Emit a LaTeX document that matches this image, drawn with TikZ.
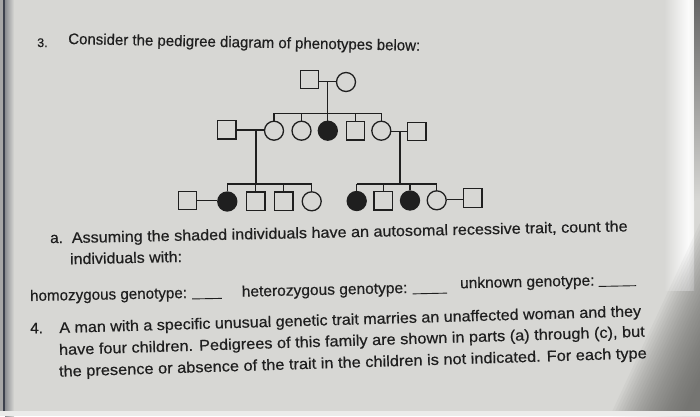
\documentclass[tikz,border=0pt]{standalone}
\usepackage{fontspec}
\setmainfont[FakeBold=0.5]{Liberation Sans}
\usepackage{graphicx}
\definecolor{paper}{HTML}{D7D7D4}
\definecolor{ink}{HTML}{1F1F1F}
\definecolor{edge}{HTML}{3C414C}
\definecolor{shadowc}{HTML}{5E5E5C}
\tikzset{
  txt/.style={font=\fontsize{15.3}{18}\selectfont, text=ink, inner sep=0pt, anchor=base west},
  male/.style={draw=ink, line width=1.3pt, rectangle, minimum size=18.5pt, inner sep=0pt},
  female/.style={draw=ink, line width=1.3pt, circle, minimum size=19pt, inner sep=0pt},
  aff/.style={fill=ink},
  link/.style={draw=ink, line width=1.3pt}
}
\begin{document}
\begin{tikzpicture}[x=1pt,y=-1pt]
\useasboundingbox (0,0) rectangle (700,416);
% photographed page background
\fill[paper] (0,0) rectangle (700,416);
\fill[gray!70] (0,0) rectangle (3,416);
\fill[edge] (3,0) rectangle (5,416);
\shade[left color=edge!50!paper, right color=paper] (5,0) rectangle (14,416);
\shade[left color=paper, right color=white!90!paper] (664,0) rectangle (688,290);
\shade[left color=white!90!paper, right color=white!70!paper] (688,0) rectangle (694,290);
\shade[top color=gray!80!black, bottom color=paper] (694,0) rectangle (700,200);
\foreach \i in {0,...,24}
  \fill[shadowc, opacity=0.055] (610+3*\i,416) -- (700,223+6.43*\i) -- (700,416) -- cycle;
\fill[white!50!paper] (0,411) rectangle (700,416);

% question 3
\node[txt, font=\fontsize{12.5}{15}\selectfont] (n3) at (37,47) {3.};
\node[txt, rotate=-1.1] (q3) at (68,44) {\resizebox{352pt}{\height}{Consider the pedigree diagram of phenotypes below:}};

% generation I
\node[male] (g1m) at (309.5,79.5) {};
\node[female] (g1f) at (346,82) {};
\coordinate (g1mid) at (327.5,81.5);
\coordinate (s2) at (327.5,113.3);
\draw[link] (g1m.east |- g1mid) -- (g1f.west |- g1mid);
\draw[link] (g1mid) -- (s2);

% generation II
\node[male] (g2h1) at (226.7,129.7) {};
\node[female] (g2a) at (274,130.7) {};
\node[female] (g2b) at (301.5,130.7) {};
\node[female, aff] (g2c) at (327.8,130.7) {};
\node[male] (g2d) at (355.5,130.7) {};
\node[female] (g2e) at (381.3,130.7) {};
\node[male] (g2h2) at (416.7,131.5) {};
\coordinate (s2l) at (274,113.3);
\coordinate (s2r) at (381.3,113.3);
\draw[link] (s2l) -- (s2r);
\foreach \c in {g2a,g2b,g2c,g2d,g2e}
  \draw[link] (\c.north) -- (\c.north |- s2l);
\coordinate (m1) at (256,130);
\coordinate (m2) at (400,131.5);
\draw[link] (g2h1.east |- m1) -- (g2a.west |- m1);
\draw[link] (g2e.east |- m2) -- (g2h2.west |- m2);
\coordinate (s3a) at (256,184);
\coordinate (s3b) at (400,184);
\draw[link] (m1) -- (s3a);
\draw[link] (m2) -- (s3b);

% generation III, left family
\node[male] (g3h1) at (187.5,200.5) {};
\node[female, aff] (g3a) at (227.3,201.5) {};
\node[male] (g3b) at (255.8,201.3) {};
\node[male] (g3c) at (283.7,201.3) {};
\node[female] (g3d) at (311.7,201.3) {};
\coordinate (s3al) at (227.3,184);
\coordinate (s3ar) at (311.7,184);
\draw[link] (s3al) -- (s3ar);
\foreach \c in {g3a,g3b,g3c,g3d}
  \draw[link] (\c.north) -- (\c.north |- s3al);
\coordinate (m3) at (207,200.3);
\draw[link] (g3h1.east |- m3) -- (g3a.west |- m3);

% generation III, right family
\node[female, aff] (g3e) at (356.7,201) {};
\node[male] (g3f) at (383.3,200.8) {};
\node[female, aff] (g3g) at (410,200.5) {};
\node[female] (g3h) at (436.7,200.3) {};
\node[male] (g3h2) at (472.7,198) {};
\coordinate (s3bl) at (356.7,184);
\coordinate (s3br) at (436.7,184);
\draw[link] (s3bl) -- (s3br);
\foreach \c in {g3e,g3f,g3g,g3h}
  \draw[link] (\c.north) -- (\c.north |- s3bl);
\coordinate (m4) at (455,199.3);
\draw[link] (g3h.east |- m4) -- (g3h2.west |- m4);

% part a
\node[txt] (pa) at (50,243) {a.};
\node[txt, rotate=1.2] (pa1) at (71.7,243) {\resizebox{556pt}{\height}{Assuming the shaded individuals have an autosomal recessive trait, count the}};
\node[txt, rotate=1.2] (pa2) at (70,264.3) {\resizebox{112pt}{\height}{individuals with:}};
\node[txt, rotate=1.1] (homo) at (30,301) {\resizebox{191.7pt}{\height}{homozygous genotype:\hspace{5pt}\rule[-1.5pt]{30pt}{0.9pt}}};
\node[txt, rotate=1.3] (hetero) at (241.7,296.7) {\resizebox{205.3pt}{\height}{heterozygous genotype:\hspace{5pt}\rule[-1.5pt]{34pt}{0.9pt}}};
\node[txt, rotate=1.2] (unk) at (460,288.3) {\resizebox{176pt}{\height}{unknown genotype:\hspace{4pt}\rule[-1.5pt]{37pt}{0.9pt}}};

% question 4
\node[txt] (n4) at (30,333.3) {4.};
\node[txt, rotate=1.65] (q4a) at (59.3,333) {\resizebox{582pt}{\height}{A man with a specific unusual genetic trait marries an unaffected woman and they}};
\node[txt, rotate=1.8] (q4b) at (59,355) {\resizebox{586pt}{\height}{have four children. Pedigrees of this family are shown in parts (a) through (c), but}};
\node[txt, rotate=1.8] (q4c) at (59,376.7) {\resizebox{588pt}{\height}{the presence or absence of the trait in the children is not indicated. For each type}};
\end{tikzpicture}
\end{document}
